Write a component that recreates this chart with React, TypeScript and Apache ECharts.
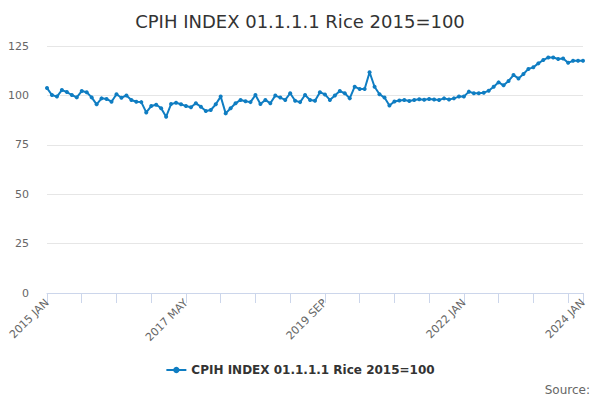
import { useEffect, useRef } from "react";
import * as echarts from "echarts";

const MONTHS = ["JAN", "FEB", "MAR", "APR", "MAY", "JUN", "JUL", "AUG", "SEP", "OCT", "NOV", "DEC"];
const START_YEAR = 2015;
const POINT_COUNT = 109;

const categories: string[] = [];
for (let i = 0; i < POINT_COUNT; i++) {
  categories.push(`${START_YEAR + Math.floor(i / 12)} ${MONTHS[i % 12]}`);
}

const riceIndex = [
  103.7, 100.2, 99.4, 102.7, 101.7, 100.2, 99.0, 102.2, 101.6, 99.0, 95.5, 98.5,
  98.2, 96.8, 100.6, 98.8, 100.0, 97.7, 96.8, 96.6, 91.4, 94.6, 95.3, 93.5,
  89.2, 95.6, 96.3, 95.5, 94.6, 94.0, 96.0, 94.3, 92.1, 92.6, 95.5, 99.4,
  90.9, 93.5, 96.0, 97.7, 97.0, 96.6, 100.2, 95.6, 97.7, 96.0, 99.9, 98.9,
  97.7, 101.1, 97.3, 96.6, 100.2, 97.7, 97.3, 101.6, 100.5, 97.7, 99.9, 102.2,
  101.1, 98.5, 104.4, 103.2, 103.2, 111.7, 104.4, 100.6, 98.9, 94.9, 96.9, 97.4,
  97.7, 97.2, 97.7, 98.0, 97.8, 98.2, 97.9, 97.7, 98.5, 97.9, 98.5, 99.4,
  99.4, 101.9, 101.1, 101.1, 101.3, 102.4, 104.4, 106.6, 105.1, 107.3, 110.3, 108.6,
  110.8, 113.4, 114.2, 116.2, 117.9, 119.2, 119.2, 118.4, 118.7, 116.5, 117.5, 117.5,
  117.5,
];

const SERIES_NAME = "CPIH INDEX 01.1.1.1 Rice 2015=100";
const TICK_STEP = 7;
const LABEL_STEP = 28;

const App = () => {
  const chartRef = useRef<HTMLDivElement>(null);

  useEffect(() => {
    const chart = echarts.init(chartRef.current, null, { renderer: "svg" });
    const last = categories.length - 1;
    const font = "DejaVu Sans";

    chart.setOption({
      animation: false,
      title: {
        text: SERIES_NAME,
        left: "center",
        top: 7,
        textStyle: {
          fontFamily: font,
          fontSize: 18,
          fontWeight: "normal",
          color: "#333333",
        },
      },
      legend: {
        bottom: 19,
        left: "center",
        itemWidth: 20,
        itemHeight: 8,
        itemGap: 4,
        textStyle: {
          fontFamily: font,
          fontSize: 12,
          fontWeight: "bold",
          color: "#333333",
        },
      },
      grid: {
        left: 47,
        right: 17,
        top: 46,
        bottom: 107,
      },
      xAxis: {
        type: "category",
        data: categories,
        boundaryGap: false,
        axisLine: { lineStyle: { color: "#ccd6eb" } },
        axisTick: {
          length: 10,
          lineStyle: { color: "#ccd6eb" },
          interval: (i: number) => i % TICK_STEP === 0 || i === last,
        },
        axisLabel: {
          rotate: 45,
          margin: 8,
          fontFamily: font,
          fontSize: 11,
          color: "#666666",
          interval: (i: number) => i % LABEL_STEP === 0 || i === last,
        },
      },
      yAxis: {
        type: "value",
        min: 0,
        max: 125,
        interval: 25,
        axisLine: { show: false },
        axisTick: { show: false },
        axisLabel: {
          margin: 18,
          fontFamily: font,
          fontSize: 11,
          color: "#666666",
        },
        splitLine: { lineStyle: { color: "#e6e6e6" } },
      },
      graphic: [
        {
          type: "text",
          right: 10,
          bottom: 4,
          style: {
            text: "Source:",
            fontFamily: font,
            fontSize: 12,
            fill: "#666666",
          },
        },
      ],
      series: [
        {
          name: SERIES_NAME,
          type: "line",
          data: riceIndex,
          symbol: "circle",
          symbolSize: 4,
          showAllSymbol: true,
          lineStyle: { width: 2, color: "#0f7dc2" },
          itemStyle: { color: "#0f7dc2" },
        },
      ],
    });

    return () => {
      chart.dispose();
    };
  }, []);

  return (
    <div
      ref={chartRef}
      style={{ position: "fixed", left: 0, top: 0, width: "600px", height: "400px", background: "#fff" }}
    />
  );
};

export default App;
